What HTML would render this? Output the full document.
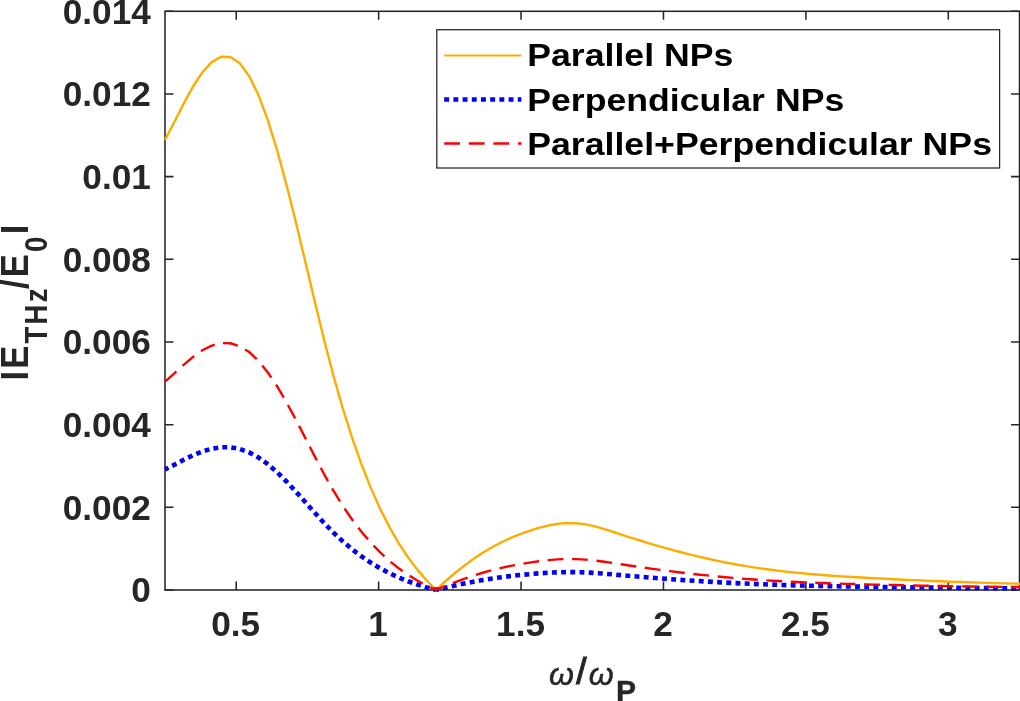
<!DOCTYPE html>
<html lang="en"><head><meta charset="utf-8"><title>THz field plot</title>
<style>
html,body{margin:0;padding:0;background:#fff;}
body{width:1020px;height:701px;overflow:hidden;position:relative;}
svg{display:block;position:absolute;left:0;top:0;}
text{font-family:"Liberation Sans",sans-serif;font-weight:bold;}
.tk{fill:#262626;font-size:34.5px;}
.lg{fill:#000;font-size:31.9px;}
</style></head><body>
<svg width="1020" height="701" viewBox="0 0 1020 701">
<rect x="0" y="0" width="1020" height="701" fill="#fff"/>
<defs><clipPath id="ax"><rect x="164.20" y="10.50" width="856.10" height="581.70"/></clipPath></defs>
<g stroke="#262626" stroke-width="1.55" fill="none">
<rect x="165.00" y="11.30" width="854.50" height="578.70"/>
<path d="M236.21 590.00v-8.50M236.21 11.30v8.50M378.62 590.00v-8.50M378.62 11.30v8.50M521.04 590.00v-8.50M521.04 11.30v8.50M663.46 590.00v-8.50M663.46 11.30v8.50M805.88 590.00v-8.50M805.88 11.30v8.50M948.29 590.00v-8.50M948.29 11.30v8.50M165.00 590.00h8.50M1019.50 590.00h-8.50M165.00 507.33h8.50M1019.50 507.33h-8.50M165.00 424.66h8.50M1019.50 424.66h-8.50M165.00 341.99h8.50M1019.50 341.99h-8.50M165.00 259.31h8.50M1019.50 259.31h-8.50M165.00 176.64h8.50M1019.50 176.64h-8.50M165.00 93.97h8.50M1019.50 93.97h-8.50M165.00 11.30h8.50M1019.50 11.30h-8.50"/>
</g>
<g clip-path="url(#ax)" fill="none" stroke-linejoin="round">
<path d="M165.00 139.90 L174.34 122.03 L183.69 103.63 L193.03 86.48 L202.38 72.28 L211.72 62.10 L221.07 56.76 L230.41 57.01 L239.76 63.33 L249.10 75.91 L258.45 94.93 L267.79 120.09 L277.14 150.37 L286.48 184.72 L295.83 222.05 L305.17 261.12 L314.52 300.53 L323.86 338.90 L333.21 374.85 L342.55 407.57 L351.90 437.14 L361.24 463.70 L370.59 487.38 L379.93 508.36 L389.28 526.83 L398.62 543.05 L407.97 557.23 L417.31 569.61 L426.66 580.47 L436.00 589.91 L445.34 581.25 L454.69 573.28 L464.03 565.85 L473.38 559.01 L482.72 552.78 L492.07 547.19 L501.41 542.26 L510.76 537.93 L520.10 534.13 L529.45 530.80 L538.79 527.90 L548.14 525.55 L557.48 523.88 L566.83 523.06 L576.17 523.21 L585.52 524.40 L594.86 526.42 L604.21 529.04 L613.55 532.00 L622.90 535.06 L632.24 538.06 L641.59 540.99 L650.93 543.82 L660.28 546.56 L669.62 549.20 L678.97 551.72 L688.31 554.12 L697.66 556.39 L707.00 558.54 L716.34 560.56 L725.69 562.46 L735.03 564.23 L744.38 565.87 L753.72 567.38 L763.07 568.76 L772.41 570.02 L781.76 571.16 L791.10 572.19 L800.45 573.12 L809.79 573.96 L819.14 574.73 L828.48 575.44 L837.83 576.08 L847.17 576.68 L856.52 577.25 L865.86 577.79 L875.21 578.30 L884.55 578.80 L893.90 579.27 L903.24 579.72 L912.59 580.15 L921.93 580.56 L931.28 580.95 L940.62 581.32 L949.97 581.68 L959.31 582.01 L968.66 582.32 L978.00 582.62 L987.34 582.90 L996.69 583.16 L1006.03 583.41 L1015.38 583.64 L1024.72 583.86" stroke="#FCAD00" stroke-width="2.4"/>
<path d="M165.00 469.51 L174.34 464.72 L183.69 459.80 L193.03 455.21 L202.38 451.41 L211.72 448.68 L221.07 447.25 L230.41 447.32 L239.76 449.01 L249.10 452.38 L258.45 457.47 L267.79 464.21 L277.14 472.31 L286.48 481.51 L295.83 491.50 L305.17 501.96 L314.52 512.51 L323.86 522.78 L333.21 532.40 L342.55 541.16 L351.90 549.08 L361.24 556.19 L370.59 562.53 L379.93 568.14 L389.28 573.09 L398.62 577.43 L407.97 581.23 L417.31 584.54 L426.66 587.45 L436.00 589.98" stroke="#0000FF" stroke-width="4.6" stroke-dasharray="4.9 4.1" stroke-dashoffset="1.0"/>
<path d="M436.00 589.98 L445.34 587.66 L454.69 585.52 L464.03 583.54 L473.38 581.70 L482.72 580.03 L492.07 578.54 L501.41 577.22 L510.76 576.06 L520.10 575.04 L529.45 574.15 L538.79 573.38 L548.14 572.75 L557.48 572.30 L566.83 572.08 L576.17 572.12 L585.52 572.44 L594.86 572.98 L604.21 573.68 L613.55 574.47 L622.90 575.29 L632.24 576.10 L641.59 576.88 L650.93 577.64 L660.28 578.37 L669.62 579.08 L678.97 579.75 L688.31 580.39 L697.66 581.00 L707.00 581.58 L716.34 582.12 L725.69 582.63 L735.03 583.10 L744.38 583.54 L753.72 583.95 L763.07 584.31 L772.41 584.65 L781.76 584.96 L791.10 585.23 L800.45 585.48 L809.79 585.71 L819.14 585.91 L828.48 586.10 L837.83 586.27 L847.17 586.44 L856.52 586.59 L865.86 586.73 L875.21 586.87 L884.55 587.00 L893.90 587.13 L903.24 587.25 L912.59 587.36 L921.93 587.47 L931.28 587.58 L940.62 587.68 L949.97 587.77 L959.31 587.86 L968.66 587.95 L978.00 588.02 L987.34 588.10 L996.69 588.17 L1006.03 588.24 L1015.38 588.30 L1024.72 588.36" stroke="#0000FF" stroke-width="4.6" stroke-dasharray="4.9 4.3" stroke-dashoffset="2.2"/>
<path d="M165.00 381.61 L174.34 373.33 L183.69 364.81 L193.03 356.87 L202.38 350.29 L211.72 345.58 L221.07 343.11 L230.41 343.23 L239.76 346.15 L249.10 351.98 L258.45 360.78 L267.79 372.43 L277.14 386.45 L286.48 402.35 L295.83 419.64 L305.17 437.73 L314.52 455.98 L323.86 473.74 L333.21 490.39 L342.55 505.54 L351.90 519.23 L361.24 531.52 L370.59 542.49 L379.93 552.20 L389.28 560.75 L398.62 568.26 L407.97 574.83 L417.31 580.56 L426.66 585.59 L436.00 589.96" stroke="#FF0000" stroke-width="2.4" stroke-dasharray="15.2 8.4"/>
<path d="M436.00 589.96 L445.34 585.95 L454.69 582.26 L464.03 578.82 L473.38 575.65 L482.72 572.76 L492.07 570.18 L501.41 567.90 L510.76 565.89 L520.10 564.13 L529.45 562.59 L538.79 561.25 L548.14 560.16 L557.48 559.39 L566.83 559.00 L576.17 559.08 L585.52 559.63 L594.86 560.56 L604.21 561.77 L613.55 563.15 L622.90 564.56 L632.24 565.95 L641.59 567.31 L650.93 568.62 L660.28 569.89 L669.62 571.11 L678.97 572.27 L688.31 573.39 L697.66 574.44 L707.00 575.43 L716.34 576.37 L725.69 577.25 L735.03 578.07 L744.38 578.83 L753.72 579.53 L763.07 580.17 L772.41 580.75 L781.76 581.27 L791.10 581.75 L800.45 582.18 L809.79 582.58 L819.14 582.93 L828.48 583.26 L837.83 583.56 L847.17 583.83 L856.52 584.10 L865.86 584.34 L875.21 584.58 L884.55 584.81 L893.90 585.03 L903.24 585.24 L912.59 585.44 L921.93 585.63 L931.28 585.81 L940.62 585.98 L949.97 586.15 L959.31 586.30 L968.66 586.45 L978.00 586.58 L987.34 586.71 L996.69 586.83 L1006.03 586.95 L1015.38 587.05 L1024.72 587.16" stroke="#FF0000" stroke-width="2.4" stroke-dasharray="15.8 8.65" stroke-dashoffset="6.2"/>
</g>
<text class="tk" text-anchor="end" transform="translate(150.8 602.20) scale(1.02 1)" x="0" y="0">0</text>
<text class="tk" text-anchor="end" transform="translate(150.8 519.53) scale(1.02 1)" x="0" y="0">0.002</text>
<text class="tk" text-anchor="end" transform="translate(150.8 436.86) scale(1.02 1)" x="0" y="0">0.004</text>
<text class="tk" text-anchor="end" transform="translate(150.8 354.19) scale(1.02 1)" x="0" y="0">0.006</text>
<text class="tk" text-anchor="end" transform="translate(150.8 271.51) scale(1.02 1)" x="0" y="0">0.008</text>
<text class="tk" text-anchor="end" transform="translate(150.8 188.84) scale(1.02 1)" x="0" y="0">0.01</text>
<text class="tk" text-anchor="end" transform="translate(150.8 106.17) scale(1.02 1)" x="0" y="0">0.012</text>
<text class="tk" text-anchor="end" transform="translate(150.8 23.50) scale(1.02 1)" x="0" y="0">0.014</text>
<text class="tk" text-anchor="middle" transform="translate(235.71 635.5) scale(1.02 1)" x="0" y="0">0.5</text>
<text class="tk" text-anchor="middle" transform="translate(378.12 635.5) scale(1.02 1)" x="0" y="0">1</text>
<text class="tk" text-anchor="middle" transform="translate(520.54 635.5) scale(1.02 1)" x="0" y="0">1.5</text>
<text class="tk" text-anchor="middle" transform="translate(662.96 635.5) scale(1.02 1)" x="0" y="0">2</text>
<text class="tk" text-anchor="middle" transform="translate(805.38 635.5) scale(1.02 1)" x="0" y="0">2.5</text>
<text class="tk" text-anchor="middle" transform="translate(947.79 635.5) scale(1.02 1)" x="0" y="0">3</text>
<rect x="436.80" y="29.70" width="562.80" height="138.30" fill="#fff" stroke="#262626" stroke-width="1.25"/>
<path d="M444.2 55.50H521.4" stroke="#FCAD00" stroke-width="2.1" fill="none"/>
<path d="M444.2 99.50H521.4" stroke="#0000FF" stroke-width="4.6" stroke-dasharray="4.9 4.3" fill="none"/>
<path d="M444.2 143.50H521.4" stroke="#FF0000" stroke-width="2.4" stroke-dasharray="15.8 8.8" fill="none"/>
<text class="lg" transform="translate(527.2 66.30) scale(1.118 1)" x="0" y="0">Parallel NPs</text>
<text class="lg" transform="translate(527.2 111.00) scale(1.118 1)" x="0" y="0">Perpendicular NPs</text>
<text class="lg" transform="translate(527.2 155.10) scale(1.118 1)" x="0" y="0">Parallel+Perpendicular NPs</text>
<g fill="#262626">
<text x="548.90" y="685" style="font-size:32px;font-style:italic;font-weight:normal" stroke="#262626" stroke-width="0.5">ω</text>
<text x="576.20" y="684.4" style="font-size:37px;font-weight:normal" stroke="#262626" stroke-width="1.1">/</text>
<text x="588.80" y="685" style="font-size:32px;font-style:italic;font-weight:normal" stroke="#262626" stroke-width="0.5">ω</text>
<text x="616.00" y="700.6" style="font-size:30px;font-weight:bold" stroke="#262626" stroke-width="0.4">P</text>
</g>
<text transform="translate(27.7 380.5) rotate(-90) scale(0.885 1)" x="0" y="0" fill="#262626" font-size="38.96px" letter-spacing="2.5">IE<tspan font-size="31.2px" dy="19">THz</tspan><tspan dy="-19" dx="-3">/E</tspan><tspan font-size="31.2px" dy="19">0</tspan><tspan dy="-19">I</tspan></text>
</svg></body></html>
